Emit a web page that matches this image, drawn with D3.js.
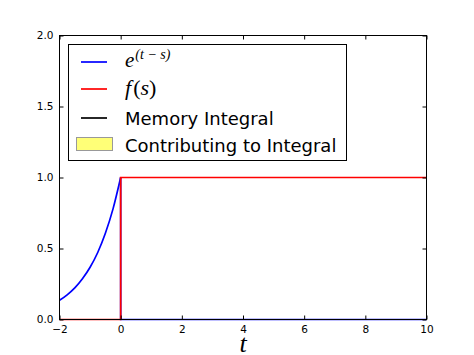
<!DOCTYPE html>
<html>
<head>
<meta charset="utf-8">
<script src="https://cdn.jsdelivr.net/npm/d3@7"></script>
<style>
body { margin: 0; background: #fff; }
svg { display: block; }
</style>
</head>
<body>
<svg width="474" height="355"></svg>
<script>
// values
var sKernel = [-2, -1.75, -1.5, -1.25, -1, -0.75, -0.5, -0.25, 0, 0.001, 10];
var kernelVals = [0.135, 0.174, 0.223, 0.287, 0.368, 0.472, 0.607, 0.779, 1.0, 0, 0];
var sStep = [-2, 0, 0, 10];
var stepVals = [0, 0, 1, 1];
var xTicks = [-2, 0, 2, 4, 6, 8, 10];
var yTicks = [0, 0.5, 1.0, 1.5, 2.0];
var legendLabels = ["Memory Integral", "Contributing to Integral"];

var svg = d3.select("svg");
var mLeft = 59.5, mRight = 426.5, mTop = 35.5, mBottom = 319.5;

var xScale = d3.scaleLinear().domain([-2, 10]).range([mLeft, mRight]);
var yScale = d3.scaleLinear().domain([0, 2]).range([mBottom, mTop]);

function pts(xs, ys) {
    return xs.map(function(d, i) { return [d, ys[i]]; });
}
var line = d3.line()
    .x(function(d) { return xScale(d[0]); })
    .y(function(d) { return yScale(d[1]); });

// kernel curve: smooth part for s <= 0, then flat at 0
svg.append("path")
    .attr("d", d3.line().curve(d3.curveMonotoneX)
        .x(function(d) { return xScale(d[0]); })
        .y(function(d) { return yScale(d[1]); })(pts(sKernel.slice(0, 9), kernelVals.slice(0, 9))))
    .attr("fill", "none").attr("stroke", "#0000ff").attr("stroke-width", 1.7);
svg.append("path")
    .attr("d", line(pts(sKernel.slice(8), kernelVals.slice(8))))
    .attr("fill", "none").attr("stroke", "#0000ff").attr("stroke-width", 1.7);

// step function
svg.append("path")
    .attr("d", line(pts(sStep, stepVals)))
    .attr("fill", "none").attr("stroke", "#ff0000").attr("stroke-width", 1.7);

// axes: inside ticks on all four sides
var fontTick = "DejaVu Sans, sans-serif";
function fmtX(d) { return d < 0 ? "\u2212" + Math.abs(d) : d; }

var gb = svg.append("g").attr("transform", "translate(0," + mBottom + ")")
    .call(d3.axisBottom(xScale).tickValues(xTicks).tickSizeInner(-4).tickSizeOuter(0).tickPadding(6).tickFormat(fmtX));
var gt = svg.append("g").attr("transform", "translate(0," + mTop + ")")
    .call(d3.axisTop(xScale).tickValues(xTicks).tickSizeInner(-4).tickSizeOuter(0).tickFormat(""));
var gl = svg.append("g").attr("transform", "translate(" + mLeft + ",0)")
    .call(d3.axisLeft(yScale).tickValues(yTicks).tickSizeInner(-4).tickSizeOuter(0).tickPadding(6).tickFormat(d3.format(".1f")));
var gr = svg.append("g").attr("transform", "translate(" + mRight + ",0)")
    .call(d3.axisRight(yScale).tickValues(yTicks).tickSizeInner(-4).tickSizeOuter(0).tickFormat(""));

[gb, gt, gl, gr].forEach(function(g) {
    g.select(".domain").remove();
    g.selectAll("line").attr("stroke", "#000");
    g.selectAll("text").attr("font-family", fontTick).attr("font-size", 10.5).attr("fill", "#000");
});

svg.append("rect")
    .attr("x", mLeft).attr("y", mTop)
    .attr("width", mRight - mLeft).attr("height", mBottom - mTop)
    .attr("fill", "none").attr("stroke", "#000").attr("stroke-width", 1);

// x label
svg.append("text")
    .attr("x", (mLeft + mRight) / 2).attr("y", 352)
    .attr("text-anchor", "middle")
    .attr("font-family", "Liberation Serif, serif").attr("font-style", "italic")
    .attr("font-size", 26).text("t");

// legend
var lg = svg.append("g");
lg.append("rect")
    .attr("x", 68.5).attr("y", 44.5).attr("width", 278).attr("height", 116)
    .attr("fill", "#fff").attr("stroke", "#000").attr("stroke-width", 1);

var rowY = [62, 89, 118, 145];
var hx0 = 81, hx1 = 107, tx = 125;
lg.append("line").attr("x1", hx0).attr("x2", hx1).attr("y1", rowY[0]).attr("y2", rowY[0])
    .attr("stroke", "#0000ff").attr("stroke-width", 1.7);
lg.append("line").attr("x1", hx0).attr("x2", hx1).attr("y1", rowY[1]).attr("y2", rowY[1])
    .attr("stroke", "#ff0000").attr("stroke-width", 1.7);
lg.append("line").attr("x1", hx0).attr("x2", hx1).attr("y1", rowY[2]).attr("y2", rowY[2])
    .attr("stroke", "#000").attr("stroke-width", 1.7);
lg.append("rect").attr("x", 76.5).attr("y", 137.5).attr("width", 36).attr("height", 13)
    .attr("fill", "#ffff77").attr("stroke", "#999").attr("stroke-width", 1);

var math = lg.append("text").attr("x", tx).attr("y", rowY[0] + 5)
    .attr("font-family", "Liberation Serif, serif").attr("font-style", "italic").attr("font-size", 21);
math.append("tspan").text("e");
math.append("tspan").attr("dx", 1).attr("dy", -8).attr("font-size", 14).text("(t \u2212 s)");

var fs = lg.append("text").attr("x", tx).attr("y", rowY[1] + 6)
    .attr("font-family", "Liberation Serif, serif").attr("font-size", 22);
fs.append("tspan").attr("font-style", "italic").text("f");
fs.append("tspan").attr("dx", 2).text("(");
fs.append("tspan").attr("font-style", "italic").text("s");
fs.append("tspan").text(")");

legendLabels.forEach(function(t, i) {
    lg.append("text").attr("x", tx).attr("y", rowY[i + 2] + 6.5)
        .attr("font-family", "DejaVu Sans, sans-serif").attr("font-size", 18)
        .attr("fill", "#000").text(t);
});
</script>
</body>
</html>
